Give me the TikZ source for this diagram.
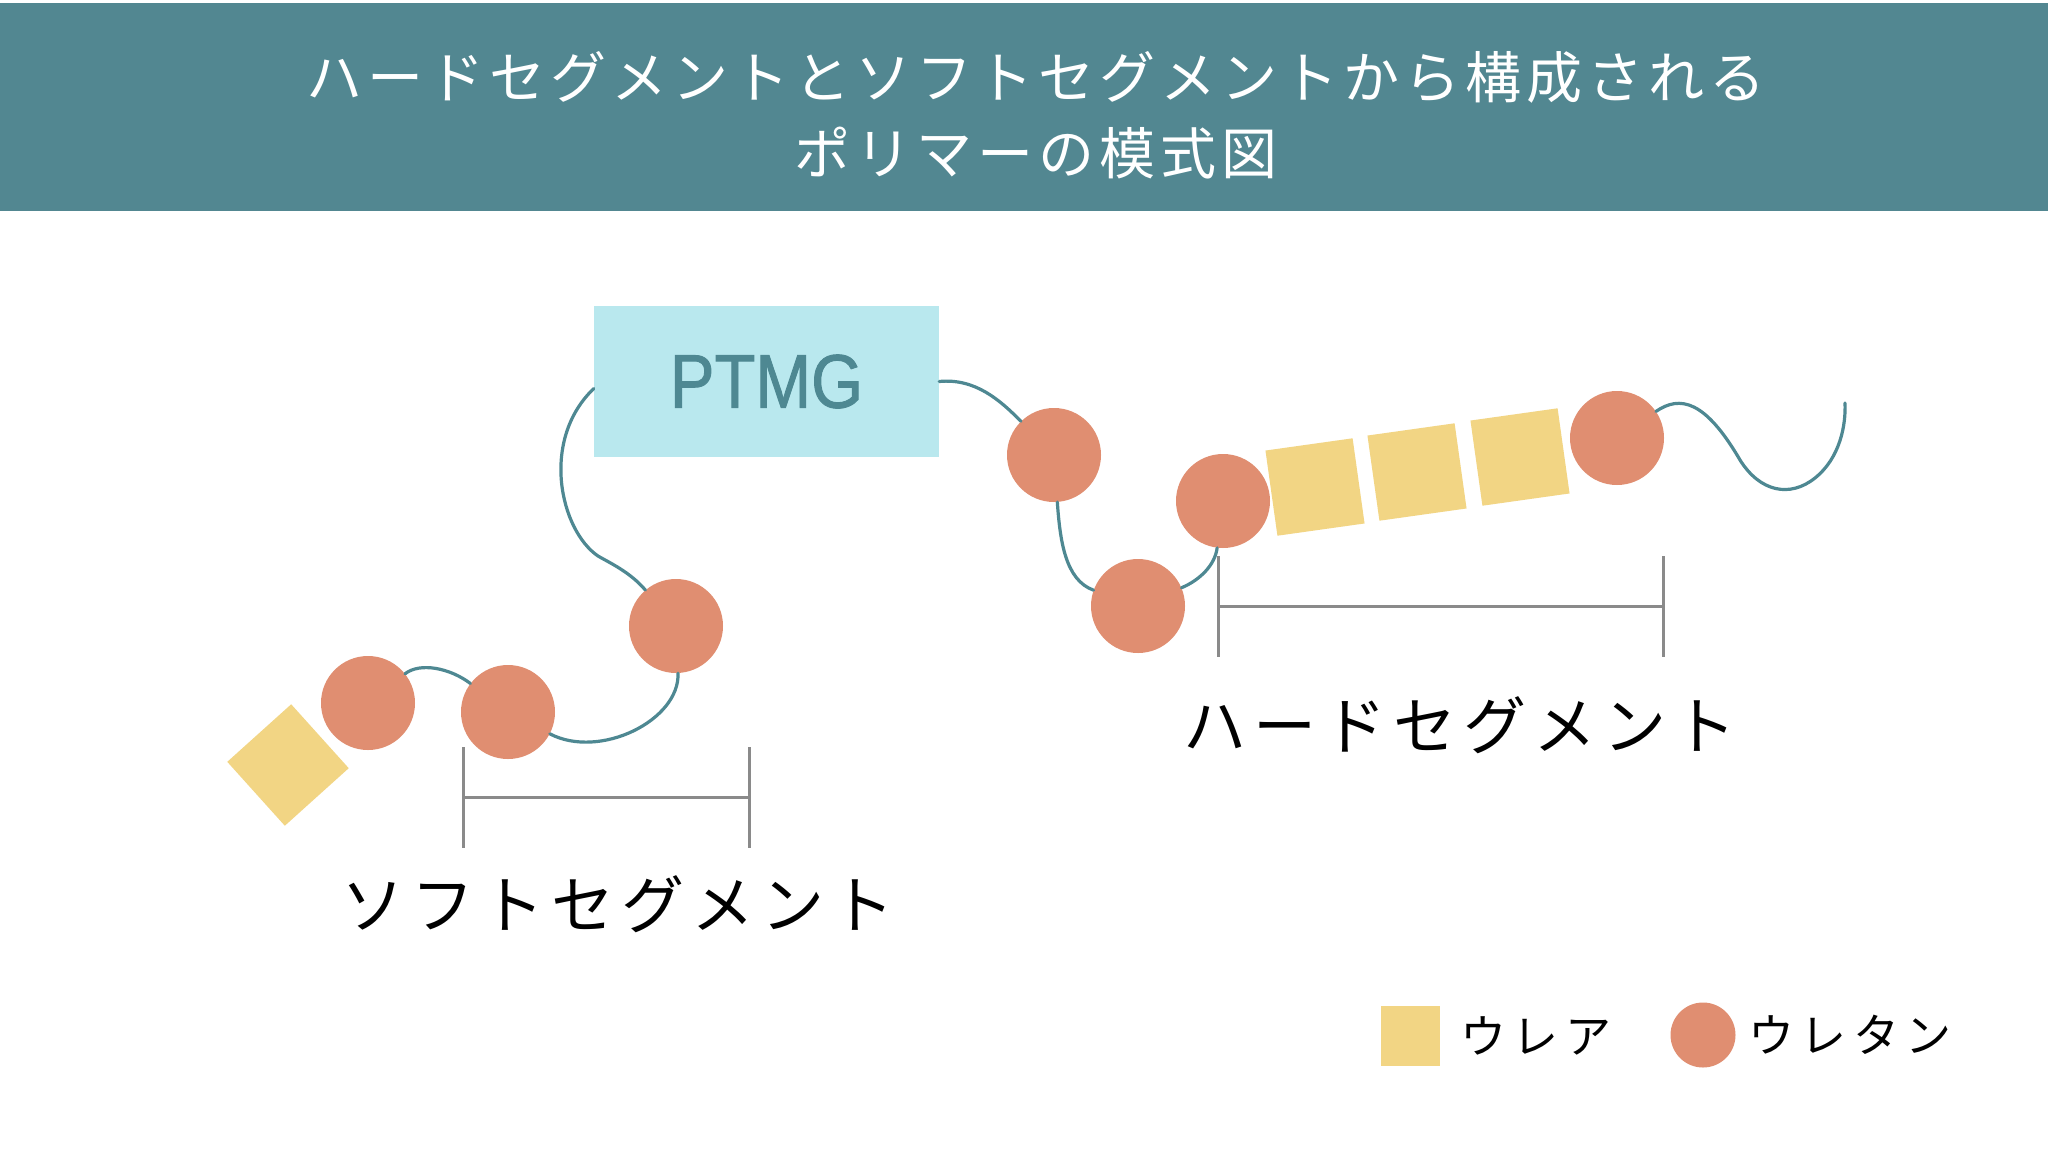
\documentclass[tikz,border=0pt]{standalone}
\usepackage{fontspec}
\setmainfont{Noto Sans CJK JP}
\newfontfamily\jpfont{Noto Sans CJK JP}
\newfontfamily\ptmgfont[FakeStretch=0.88,FakeBold=1.2]{Liberation Sans}
\usepackage{xcolor}
\definecolor{HeaderTeal}{HTML}{528791}
\definecolor{ChainTeal}{HTML}{4E8892}
\definecolor{BoxCyan}{HTML}{B9E8EE}
\definecolor{UreaYellow}{HTML}{F2D584}
\definecolor{UrethaneOrange}{HTML}{E08E71}
\definecolor{BracketGray}{HTML}{8A8A8A}

\begin{document}
\begin{tikzpicture}[
	x=1pt, y=-1pt, % one unit is one pixel, y runs downwards
	% Style for the urethane circles
	urethane node/.style={
		circle,
		fill=UrethaneOrange,
		inner sep=0pt,
		minimum size=94pt
	},
	% Style for the urea blocks
	urea node/.style={
		rectangle,
		fill=UreaYellow,
		inner sep=0pt,
		minimum width=88pt,
		minimum height=86pt
	},
	% Style for the polymer chain
	chain/.style={
		draw=ChainTeal,
		line width=3.2pt,
		line cap=round
	},
	% Style for the segment brackets
	bracket/.style={
		draw=BracketGray,
		line width=3pt
	},
	% Style for the segment names
	seg label/.style={
		text=black,
		font=\jpfont\fontsize{63}{70}\selectfont\addfontfeature{LetterSpace=11}
	},
	% Style for the legend texts
	legend label/.style={
		anchor=west,
		text=black,
		inner sep=0pt,
		font=\jpfont\fontsize{46}{50}\selectfont\addfontfeature{LetterSpace=14}
	}
	]
	
	\useasboundingbox (0,0) rectangle (2048,1152);
	\fill[white] (0,0) rectangle (2048,1152);
	
	% 1. Header
	\fill[HeaderTeal] (0,3) rectangle (2048,211);
	\node[text=white, align=center,
		font=\jpfont\fontsize{56}{76}\selectfont\addfontfeature{LetterSpace=9}]
		(T) at (1036,115) {ハードセグメントとソフトセグメントから構成される\\ポリマーの模式図};
	
	% 2. Units of the chain
	\node[urea node, rotate=42, minimum width=86pt] (R0) at (288,765) {};
	\node[urethane node] (U1) at (368,703) {};
	\node[urethane node] (U2) at (508,712) {};
	\node[urethane node] (U3) at (676,626) {};
	\node[rectangle, fill=BoxCyan, minimum width=345pt, minimum height=151pt,
		text=ChainTeal, font=\ptmgfont\fontsize{76}{80}\selectfont]
		(P) at (766.5,381.5) {PTMG};
	\node[urethane node] (U4) at (1054,455) {};
	\node[urethane node] (U5) at (1138,606) {};
	\node[urethane node] (U6) at (1223,501) {};
	\node[urea node, rotate=8] (R1) at (1315,487) {};
	\node[urea node, rotate=8] (R2) at (1417,472) {};
	\node[urea node, rotate=8] (R3) at (1520,457) {};
	\node[urethane node] (U7) at (1617,438) {};
	\coordinate (E) at (1845,403);
	
	% 3. Chain between the units
	\draw[chain] (U1) .. controls (420,662) and (450,668) .. (U2);
	\draw[chain] (U2) .. controls (600,760) and (680,720) .. (U3);
	\draw[chain] (U3) .. controls (630,572) and (610,563) .. (598,556)
		.. controls (560,530) and (540,440) .. ([yshift=-7pt]P.west);
	\draw[chain] (P.east) .. controls (975,378) and (1000,400) .. (U4);
	\draw[chain] (U4) .. controls (1060,540) and (1065,580) .. (U5);
	\draw[chain] (U5) .. controls (1200,580) and (1215,565) .. (U6);
	\draw[chain] (U7) .. controls (1680,395) and (1705,400) .. (1740,460)
		.. controls (1760,492) and (1790,498) .. (1815,478)
		.. controls (1840,458) and (1846,425) .. (E);
	
	% 4. Brackets and segment names
	\coordinate (S1) at (463,797);
	\coordinate (S2) at (749,797);
	\draw[bracket] (S1) -- (S2);
	\draw[bracket] ([yshift=50pt]S1) -- ([yshift=-51pt]S1);
	\draw[bracket] ([yshift=50pt]S2) -- ([yshift=-51pt]S2);
	\node[seg label] (SL) at (618,904) {ソフトセグメント};
	
	\coordinate (H1) at (1218,606);
	\coordinate (H2) at (1663,606);
	\draw[bracket] (H1) -- (H2);
	\draw[bracket] ([yshift=50pt]H1) -- ([yshift=-51pt]H1);
	\draw[bracket] ([yshift=50pt]H2) -- ([yshift=-51pt]H2);
	\node[seg label] (HL) at (1460,725) {ハードセグメント};
	
	% 5. Legend
	\node[urea node, minimum width=59pt, minimum height=60pt] (L1) at (1410,1036) {};
	\node[legend label] (L1T) at (1460,1036) {ウレア};
	\node[urethane node, minimum size=65pt] (L2) at (1703,1035) {};
	\node[legend label] (L2T) at (1748,1035) {ウレタン};
	
\end{tikzpicture}
\end{document}
